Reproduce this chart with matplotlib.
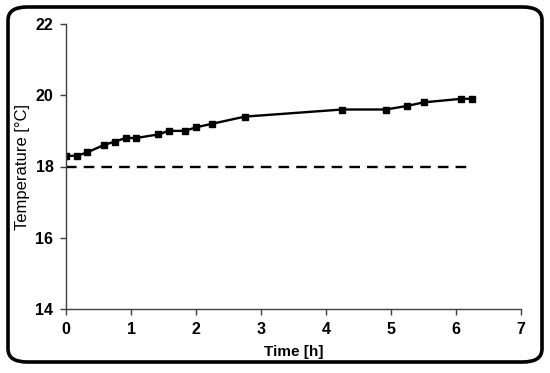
import matplotlib
matplotlib.use("Agg")
import matplotlib.pyplot as plt
from matplotlib.patches import FancyBboxPatch

time_h = [0, 0.17, 0.33, 0.58, 0.75, 0.92, 1.08, 1.42, 1.58, 1.83, 2.0, 2.25, 2.75,
          4.25, 4.92, 5.25, 5.5, 6.08, 6.25]
temp_c = [18.3, 18.3, 18.4, 18.6, 18.7, 18.8, 18.8, 18.9, 19.0, 19.0, 19.1, 19.2, 19.4,
          19.6, 19.6, 19.7, 19.8, 19.9, 19.9]
ref_time = [0, 6.2]
ref_temp = [18, 18]
xticks = [0, 1, 2, 3, 4, 5, 6, 7]
yticks = [14, 16, 18, 20, 22]

plt.rcParams['font.family'] = ['Liberation Sans', 'DejaVu Sans']

W, H = 550, 373
fig = plt.figure(figsize=(W / 100, H / 100), dpi=100)
ax = fig.add_axes([66 / W, 1 - 309 / H, (521 - 66) / W, (309 - 24) / H])

ax.plot(ref_time, ref_temp, color='black', lw=1.7, ls=(0, (4.5, 3)))
ax.plot(time_h, temp_c, color='black', lw=1.7, marker='s', markersize=5)

ax.set_xlim(0, 7)
ax.set_ylim(14, 22)
ax.set_xticks(xticks)
ax.set_yticks(yticks)
for s in ['top', 'right']:
    ax.spines[s].set_visible(False)
for s in ['left', 'bottom']:
    ax.spines[s].set_color('#404040')
    ax.spines[s].set_linewidth(1.0)
ax.tick_params(direction='out', length=4, width=1, color='#404040', labelsize=11.5, pad=5)
for lab in ax.get_xticklabels() + ax.get_yticklabels():
    lab.set_fontweight('bold')
ax.set_xlabel('Time [h]', fontsize=11, fontweight='bold', labelpad=6)
ax.set_ylabel('Temperature [°C]', fontsize=12, labelpad=4)

box = FancyBboxPatch((8 / W, 1 - 362 / H), (542 - 8) / W, (362 - 7) / H,
                     boxstyle='round,pad=0,rounding_size=0.035',
                     transform=fig.transFigure, fill=False, edgecolor='black', lw=2.6)
fig.patches.append(box)

fig.savefig('out.png', dpi=100)
